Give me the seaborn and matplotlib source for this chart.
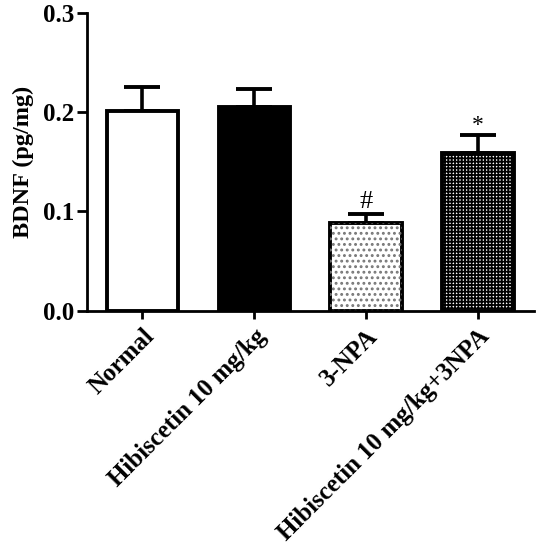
import numpy as np
import matplotlib
matplotlib.use("Agg")
import matplotlib.pyplot as plt
import seaborn as sns
from matplotlib.patches import Rectangle

# values
groups = ["Normal", "Hibiscetin 10 mg/kg", "3-NPA", "Hibiscetin 10 mg/kg+3NPA"]
means = [0.201, 0.205, 0.088, 0.159]
sems = [0.024, 0.018, 0.009, 0.018]
marks = ["", "", "#", "*"]
fills = ["white", "black", "white", "white"]
hatches = [None, None, "...", "+++++"]
hatch_colors = ["black", "black", "#777777", "black"]
yticks = [0.0, 0.1, 0.2, 0.3]

# size/offset of the significance marks
mark_style = {"#": (19, 1), "*": (17, -1)}

sns.set_style("ticks")
plt.rcParams["font.family"] = ["Liberation Serif", "DejaVu Serif"]
plt.rcParams["font.weight"] = "bold"
plt.rcParams["hatch.linewidth"] = 1.3
plt.rcParams["text.color"] = "black"
plt.rcParams["axes.labelcolor"] = "black"
plt.rcParams["xtick.color"] = "black"
plt.rcParams["ytick.color"] = "black"
plt.rcParams["axes.edgecolor"] = "black"

fig = plt.figure(figsize=(5.41, 5.50), dpi=100)
ax = fig.add_axes([0.160, 0.435, 0.827, 0.542])

sns.barplot(x=groups, y=means, hue=groups, order=groups,
            palette=dict(zip(groups, fills)), legend=False,
            width=0.64, edgecolor="black", linewidth=2.8,
            errorbar=None, ax=ax)

# hatching overlay on the bars seaborn drew
bars = sorted(ax.patches, key=lambda p: p.get_x())
for p, h, hc in zip(bars, hatches, hatch_colors):
    p.set_zorder(2)
    if h:
        ax.add_patch(Rectangle(p.get_xy(), p.get_width(), p.get_height(),
                               fill=False, hatch=h, edgecolor=hc,
                               linewidth=0, zorder=2.1))

# upper-only error bars (SEM)
x = np.arange(len(groups))
ax.errorbar(x, means, yerr=[np.zeros(len(sems)), sems], fmt="none",
            ecolor="black", elinewidth=2.6, capsize=13, capthick=2.8,
            zorder=1)

for xi, m, s, mk in zip(x, means, sems, marks):
    if mk:
        fs, dy = mark_style[mk]
        ax.annotate(mk, (xi, m + s), xytext=(0, dy), textcoords="offset points",
                    ha="center", va="bottom", fontsize=fs, fontweight="normal")

ax.set_xlim(-0.5, 3.5)
ax.set_ylim(0, 0.3)
ax.set_yticks(yticks)
ax.set_yticklabels([f"{t:.1f}" for t in yticks], fontsize=18, fontweight="bold")
ax.set_xticks(x)
ax.set_xticklabels(groups, rotation=45, ha="right", rotation_mode="anchor",
                   fontsize=18, fontweight="bold")
ax.set_xlabel("")
ax.set_ylabel("BDNF (pg/mg)", fontsize=17.5, fontweight="bold", labelpad=6)

for side in ["left", "bottom"]:
    ax.spines[side].set_linewidth(2.0)
for side in ["top", "right"]:
    ax.spines[side].set_visible(False)
ax.tick_params(axis="y", length=7, width=2.0, pad=2)
ax.tick_params(axis="x", length=6, width=2.0, pad=4)

fig.savefig("out.png", dpi=100)
